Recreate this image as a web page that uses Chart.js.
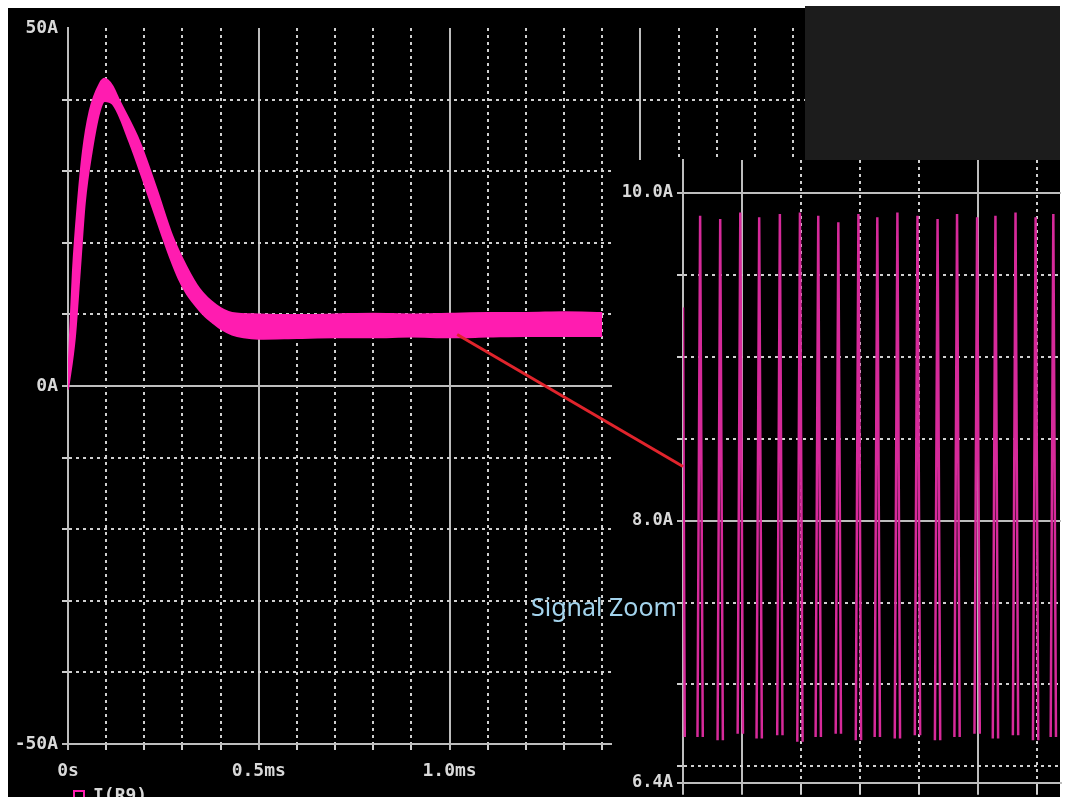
<!DOCTYPE html>
<html>
<head>
<meta charset="utf-8">
<title>I(R9)</title>
<script src="https://cdn.jsdelivr.net/npm/chart.js@4.4.1/dist/chart.umd.min.js"></script>
<style>
  html, body { margin: 0; padding: 0; background: #fff; overflow: hidden; }
  #scope { position: absolute; left: 8px; top: 8px; width: 1052px; height: 789px; background: #000; overflow: hidden; }
  #main { position: absolute; left: 0; top: 0; }
  #zoom { position: absolute; left: 0; top: 0; pointer-events: none; }
  #note { position: absolute; left: 531px; top: 594px; font: 25px/25px "Noto Sans", sans-serif; color: #a3d3ec; white-space: nowrap; }
</style>
</head>
<body>
<div id="scope"><canvas id="main" width="1052" height="807"></canvas></div>
<canvas id="zoom" width="1069" height="797"></canvas>
<div id="note">Signal Zoom</div>
<script>
// main trace, upper and lower edge of the band (time in ms, current in A)
const upT = [0, 0.005, 0.013, 0.026, 0.039, 0.057, 0.083, 0.096, 0.115, 0.135, 0.1875, 0.232, 0.273, 0.31, 0.344, 0.388, 0.43, 0.5, 0.6, 0.7, 0.8, 0.9, 1.0, 1.1, 1.2, 1.3, 1.4];
const upI = [0.5, 6.8, 16.1, 25.6, 32.7, 38.4, 42.2, 42.9, 42.0, 39.8, 34.1, 27.5, 21, 16.7, 13.6, 11.3, 10.2, 10.0, 9.9, 10.0, 10.1, 10.0, 10.1, 10.2, 10.2, 10.3, 10.2];
const loT = [0, 0.018, 0.031, 0.044, 0.062, 0.083, 0.096, 0.117, 0.161, 0.205, 0.247, 0.27, 0.29, 0.31, 0.335, 0.36, 0.378, 0.4, 0.43, 0.46, 0.5, 0.6, 0.7, 0.8, 0.9, 1.0, 1.1, 1.2, 1.3, 1.4];
const loI = [-0.5, 6.8, 16.1, 25.6, 32.7, 38.4, 39.8, 39.4, 34.1, 27.5, 21, 17.6, 15.0, 13.0, 11.2, 9.7, 8.9, 8.0, 7.2, 6.8, 6.6, 6.7, 6.8, 6.8, 6.9, 6.8, 6.9, 7.0, 7.0, 7.0];

// zoomed window: spike centres (grid units), tops and bottoms (A)
const spikeT = [-0.71, -0.37, -0.03, 0.29, 0.64, 0.98, 1.29, 1.63, 1.97, 2.29, 2.63, 2.97, 3.31, 3.64, 3.98, 4.29, 4.63, 4.97, 5.27];
const spikeTop = [9.86, 9.84, 9.88, 9.85, 9.87, 9.88, 9.86, 9.82, 9.87, 9.85, 9.88, 9.86, 9.84, 9.87, 9.85, 9.86, 9.88, 9.85, 9.87];
const spikeLow = [6.68, 6.66, 6.70, 6.67, 6.69, 6.65, 6.68, 6.70, 6.66, 6.68, 6.67, 6.69, 6.66, 6.68, 6.70, 6.67, 6.69, 6.66, 6.68];
const edgeT = [-1, -0.97];
const edgeI = [9.3, 6.68];

// tick labels
const mainXLabels = [0, 0.5, 1.0, 1.5, 2.0, 2.5];
const mainYLabels = [-50, 0, 50];
const zoomYTicks = [6.4, 6.5, 7, 7.5, 8, 8.5, 9, 9.5, 10];
const zoomYLabels = [6.4, 8, 10];
const zoomXTicks = [-1, 0, 1, 2, 3, 4, 5];
const zoomXSolid = [-1, 0, 4];

// red pointer: from (ms, A) on the main trace to (unit, A) on the zoom axis
const linkFrom = [1.02, 7.2];
const linkTo = [-1, 8.33];

const PINK = '#ff1cb0';
const SPIKE = '#d62a9a';
const GRID = '#cfcfcf';
const AXIS = '#bdbdbd';
const LABEL = '#d9d9d9';
const MONO = 'DejaVu Sans Mono';
const DASH = [3, 4];
const SPIKE_HALF = 0.045;

const near = (list, v) => list.some(t => Math.abs(t - v) < 1e-6);

const mainChart = new Chart(document.getElementById('main'), {
  type: 'line',
  data: {
    datasets: [{
      label: 'I(R9)',
      data: upT.map((t, i) => ({x: t, y: upI[i]})),
      borderColor: PINK,
      backgroundColor: PINK,
      fill: '+1',
      borderWidth: 2,
      pointRadius: 0,
      cubicInterpolationMode: 'monotone'
    }, {
      label: 'low',
      data: loT.map((t, i) => ({x: t, y: loI[i]})),
      borderColor: PINK,
      backgroundColor: PINK,
      fill: false,
      borderWidth: 2,
      pointRadius: 0,
      cubicInterpolationMode: 'monotone'
    }]
  },
  options: {
    responsive: false,
    animation: false,
    layout: {padding: {top: 20, right: 32, left: 0, bottom: 0}},
    plugins: {
      tooltip: {enabled: false},
      legend: {
        position: 'bottom',
        align: 'start',
        fullSize: false,
        labels: {
          color: LABEL,
          font: {family: MONO, size: 18, weight: 'bold'},
          boxWidth: 10,
          boxHeight: 10,
          padding: 6,
          generateLabels: () => [{text: 'I(R9)', fillStyle: 'rgba(0,0,0,0)', strokeStyle: PINK, fontColor: LABEL, lineWidth: 2, hidden: false, datasetIndex: 0}]
        }
      }
    },
    scales: {
      x: {
        type: 'linear',
        min: 0,
        max: 2.5,
        afterFit: s => { s.height = 37; },
        ticks: {
          stepSize: 0.1,
          maxTicksLimit: 60,
          autoSkip: false,
          maxRotation: 0,
          padding: 11,
          color: LABEL,
          font: {family: MONO, size: 18, weight: 'bold'},
          callback: v => near(mainXLabels, v) ? (Math.abs(v) < 1e-6 ? '0s' : v.toFixed(1) + 'ms') : ''
        },
        grid: {
          color: c => (c.tick && near(mainXLabels, c.tick.value)) ? AXIS : GRID,
          lineWidth: 2,
          tickLength: 6
        },
        border: {color: AXIS, width: 2, dash: c => (c.tick && !near(mainXLabels, c.tick.value)) ? DASH : []}
      },
      y: {
        min: -50,
        max: 50,
        afterFit: s => { s.width = 60; },
        ticks: {
          stepSize: 10,
          padding: 4,
          color: LABEL,
          font: {family: MONO, size: 18, weight: 'bold'},
          callback: v => near(mainYLabels, v) ? v + 'A' : ''
        },
        grid: {
          color: c => {
            if (!c.tick) return GRID;
            if (c.tick.value === 50) return 'rgba(0,0,0,0)';
            return near(mainYLabels, c.tick.value) ? AXIS : GRID;
          },
          lineWidth: 2,
          tickLength: 6
        },
        border: {color: AXIS, width: 2, dash: c => (c.tick && !near(mainYLabels, c.tick.value)) ? DASH : []}
      }
    }
  }
});

// zoom window points, one thin spike per cycle
const zoomPts = edgeT.map((t, i) => ({x: t, y: edgeI[i]}));
zoomPts.push({x: edgeT[1], y: null});
spikeT.forEach((t, i) => {
  zoomPts.push({x: t - SPIKE_HALF, y: spikeLow[i]});
  zoomPts.push({x: t, y: spikeTop[i]});
  zoomPts.push({x: t + SPIKE_HALF, y: spikeLow[i]});
  zoomPts.push({x: t + SPIKE_HALF, y: null});
});

const backdrop = {
  id: 'backdrop',
  beforeDraw(chart) {
    const ctx = chart.ctx;
    ctx.save();
    ctx.fillStyle = '#000';
    ctx.fillRect(612, 160, 448, 637);
    ctx.fillStyle = '#1c1c1c';
    ctx.fillRect(805, 6, 255, 154);
    ctx.restore();
  },
  afterDraw(chart) {
    const mr = mainChart.canvas.getBoundingClientRect();
    const zr = chart.canvas.getBoundingClientRect();
    const x1 = mainChart.scales.x.getPixelForValue(linkFrom[0]) + mr.left - zr.left;
    const y1 = mainChart.scales.y.getPixelForValue(linkFrom[1]) + mr.top - zr.top;
    const x2 = chart.scales.x.getPixelForValue(linkTo[0]);
    const y2 = chart.scales.y.getPixelForValue(linkTo[1]);
    const ctx = chart.ctx;
    ctx.save();
    ctx.strokeStyle = '#e0242c';
    ctx.lineWidth = 3;
    ctx.beginPath();
    ctx.moveTo(x1, y1);
    ctx.lineTo(x2, y2);
    ctx.stroke();
    ctx.restore();
  }
};

new Chart(document.getElementById('zoom'), {
  type: 'line',
  data: {
    datasets: [{
      label: 'I(R9) zoom',
      data: zoomPts,
      borderColor: SPIKE,
      borderWidth: 2.5,
      pointRadius: 0,
      fill: false,
      spanGaps: false
    }]
  },
  options: {
    responsive: false,
    animation: false,
    layout: {padding: {top: 160, right: 8, left: 0, bottom: 0}},
    plugins: {legend: {display: false}, tooltip: {enabled: false}},
    scales: {
      x: {
        type: 'linear',
        min: -1,
        max: 5.4,
        afterFit: s => { s.height = 12; },
        afterBuildTicks: s => { s.ticks = zoomXTicks.map(v => ({value: v})); },
        ticks: {display: false},
        grid: {
          color: c => (c.tick && near(zoomXSolid, c.tick.value)) ? AXIS : GRID,
          lineWidth: 2,
          tickLength: 12
        },
        border: {color: AXIS, width: 2, dash: c => (c.tick && !near(zoomXSolid, c.tick.value)) ? DASH : []}
      },
      y: {
        min: 6.4,
        max: 10.2,
        afterFit: s => { s.width = 683; },
        afterBuildTicks: s => { s.ticks = zoomYTicks.map(v => ({value: v})); },
        ticks: {
          padding: 4,
          color: LABEL,
          font: {family: MONO, size: 17, weight: 'bold'},
          callback: v => near(zoomYLabels, v) ? v.toFixed(1) + 'A' : ''
        },
        grid: {
          color: c => (c.tick && near(zoomYLabels, c.tick.value)) ? AXIS : GRID,
          lineWidth: 2,
          tickLength: 6
        },
        border: {color: AXIS, width: 2, dash: c => (c.tick && !near(zoomYLabels, c.tick.value)) ? DASH : []}
      }
    }
  },
  plugins: [backdrop]
});
</script>
</body>
</html>
